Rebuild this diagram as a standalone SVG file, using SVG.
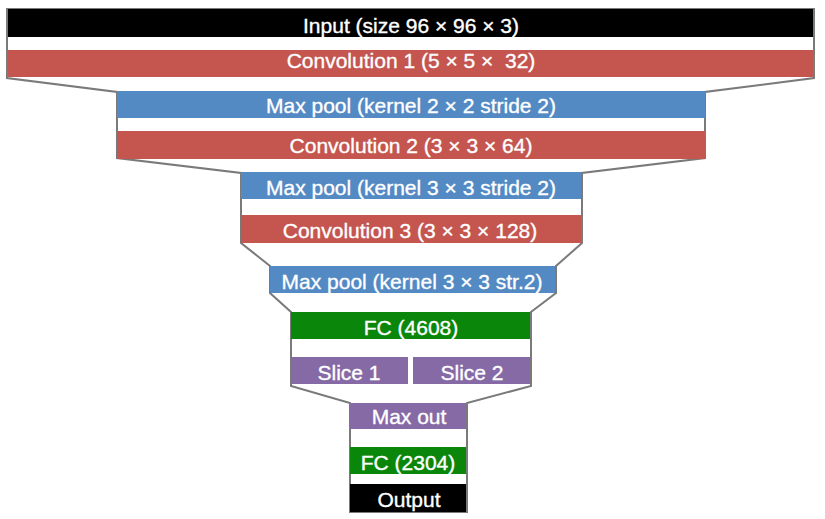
<svg xmlns="http://www.w3.org/2000/svg" width="825" height="519" viewBox="0 0 825 519">
<style>
.lbl{font-family:"Liberation Sans",Arial,sans-serif;font-size:21px;fill:#fff;stroke:#fff;stroke-width:0.35;text-anchor:middle;white-space:pre}
.blk{fill:#000}
.red{fill:#C4564F}
.blue{fill:#538AC4}
.green{fill:#0A870A}
.purple{fill:#866AA6}
.outline{fill:none;stroke:#7a7a7a;stroke-width:2;stroke-linejoin:miter}
</style>
<rect width="825" height="519" fill="#fff"/>
<g id="connectors">
<path class="outline" d="M7,9 L814,9 L814,78 L705,92 L705,158 L582,173 L582,243 L556,266 L556,293 L531,312 L531,386 L467,403 L467,512 L350,512 L350,403 L291,386 L291,312 L270,293 L270,266 L241,243 L241,173 L117,158 L117,92 L7,78 Z"/>
</g>
<g id="input"><rect class="blk" x="8" y="9" width="805" height="28"/><text class="lbl" x="411" y="33">Input (size 96 × 96 × 3)</text></g>
<g id="conv1"><rect class="red" x="8" y="50" width="805" height="27"/><text class="lbl" x="411" y="68" xml:space="preserve">Convolution 1 (5 × 5 ×  32)</text></g>
<g id="pool1"><rect class="blue" x="117" y="91" width="588" height="27"/><text class="lbl" x="411" y="113">Max pool (kernel 2 × 2 stride 2)</text></g>
<g id="conv2"><rect class="red" x="117" y="131" width="588" height="28"/><text class="lbl" x="411" y="153">Convolution 2 (3 × 3 × 64)</text></g>
<g id="pool2"><rect class="blue" x="241" y="172" width="340" height="27"/><text class="lbl" x="411" y="195">Max pool (kernel 3 × 3 stride 2)</text></g>
<g id="conv3"><rect class="red" x="241" y="215" width="340" height="28"/><text class="lbl" x="410" y="238">Convolution 3 (3 × 3 × 128)</text></g>
<g id="pool3"><rect class="blue" x="270" y="266" width="285" height="27"/><text class="lbl" x="412" y="289">Max pool (kernel 3 × 3 str.2)</text></g>
<g id="fc1"><rect class="green" x="291" y="312" width="239" height="27"/><text class="lbl" x="411" y="335">FC (4608)</text></g>
<g id="slice1"><rect class="purple" x="291" y="357" width="117" height="27"/><text class="lbl" x="349" y="380">Slice 1</text></g>
<g id="slice2"><rect class="purple" x="413" y="357" width="117" height="27"/><text class="lbl" x="472" y="380">Slice 2</text></g>
<g id="maxout"><rect class="purple" x="350" y="403" width="116" height="26"/><text class="lbl" x="409" y="424">Max out</text></g>
<g id="fc2"><rect class="green" x="350" y="447" width="116" height="27"/><text class="lbl" x="408" y="470">FC (2304)</text></g>
<g id="output"><rect class="blk" x="350" y="484" width="116" height="28"/><text class="lbl" x="409" y="507">Output</text></g>
</svg>
